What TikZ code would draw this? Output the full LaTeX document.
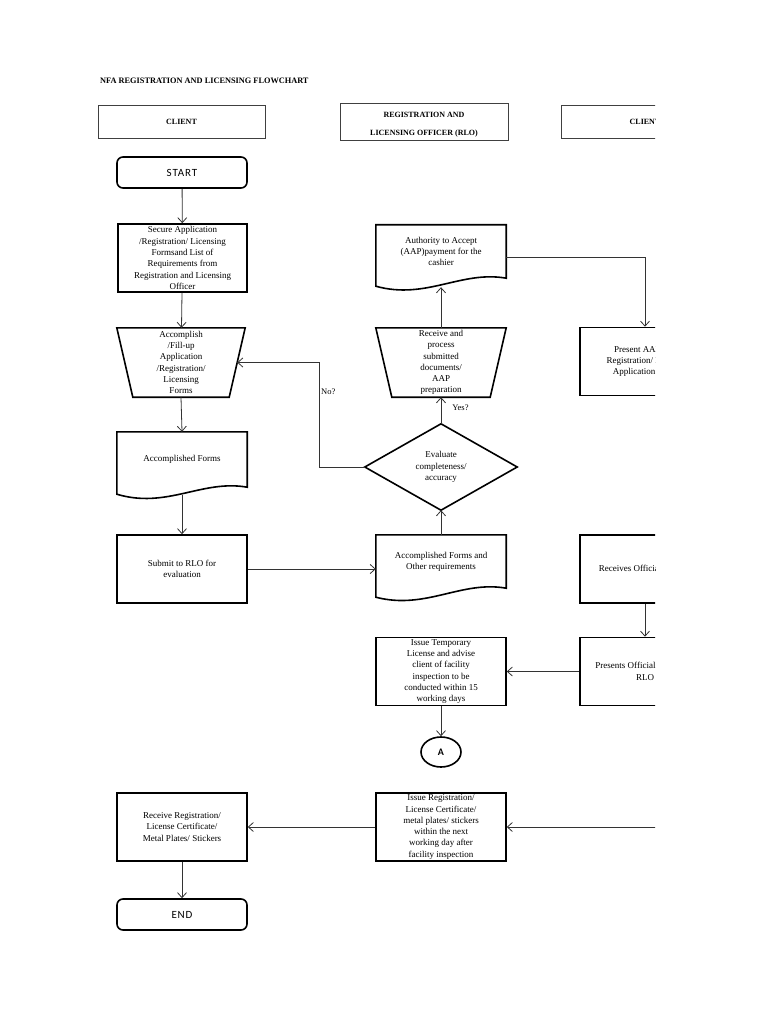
\documentclass[tikz,border=0pt]{standalone}
\usepackage{fontspec}
\setmainfont{Liberation Serif}
\newfontfamily\termfont[LetterSpace=8]{Carlito}
\usetikzlibrary{arrows.meta,shapes.geometric,calc}
\tikzset{
  txt/.style={font=\fontsize{9}{11.3}\selectfont, align=center, inner sep=1},
  box/.style={txt, draw, line width=1.6, minimum width=130, minimum height=68},
  ghost/.style={txt, minimum width=130, minimum height=68},
  shp/.style={line width=1.6, line join=miter},
  term/.style={draw, line width=1.6, rounded corners=6, minimum width=130, minimum height=31, font=\termfont\fontsize{11}{13}\selectfont},
  hdr/.style={draw=black!75, line width=0.7, minimum width=167, minimum height=33, align=center, font=\bfseries\fontsize{8}{18}\selectfont},
  conn/.style={line width=0.8, draw=black!80, -{Straight Barb[length=5,width=9]}},
  lab/.style={font=\fontsize{8.5}{10}\selectfont, inner sep=0},
}
\begin{document}
\begin{tikzpicture}[x=1pt,y=-1pt]
\useasboundingbox (0,0) rectangle (768,1024);
\begin{scope}
\clip (0,0) rectangle (655,1024);

\node[anchor=west, font=\bfseries\fontsize{8.3}{10}\selectfont, inner sep=0] (title) at (100,81) {NFA REGISTRATION AND LICENSING FLOWCHART};

\node[hdr] (h1) at (181.5,121.5) {CLIENT};
\node[hdr, minimum width=168, minimum height=37] (h2) at (424,121.5) {};
\node[align=center, font=\bfseries\fontsize{8}{18}\selectfont, inner sep=0] (h2t) at ($(h2.center)+(0,3)$) {REGISTRATION AND\\LICENSING OFFICER (RLO)};
\node[hdr, minimum width=168] (h3) at (645,121.5) {CLIENT};

% client column
\node[term] (start) at (182,172.5) {START};
\node[box, minimum width=129] (secure) at (182.5,258) {Secure Application\\/Registration/ Licensing\\Formsand List of\\Requirements from\\Registration and Licensing\\Officer};
\node[ghost, minimum width=128, minimum height=69] (acc) at (181,362.5) {Accomplish\\/Fill-up\\Application\\/Registration/\\Licensing\\Forms};
\draw[shp] (acc.north west) -- (acc.north east) -- ($(acc.south east)+(-16,0)$) -- ($(acc.south west)+(16,0)$) -- cycle;
\coordinate (accR) at ($(acc.east)+(-8,0)$);

\node[ghost, minimum height=55] (forms) at (182,459.5) {Accomplished Forms};
\draw[shp] (forms.south west) -- (forms.north west) -- (forms.north east) -- (forms.south east)
  .. controls ($(forms.south east)+(-45,-8)$) and ($(forms.south west)+(50,22)$) .. ($(forms.south west)+(0,7)$) -- cycle;

\node[box] (submit) at (182,569) {Submit to RLO for\\evaluation};
\node[box] (recv) at (182,827) {Receive Registration/\\License Certificate/\\Metal Plates/ Stickers};
\node[term] (end) at (182,914.5) {END};

% RLO column
\node[ghost, minimum height=53] (aap) at (441,251.5) {Authority to Accept\\(AAP)payment for the\\cashier};
\draw[shp] (aap.south west) -- (aap.north west) -- (aap.north east) -- (aap.south east)
  .. controls ($(aap.south east)+(-45,-8)$) and ($(aap.south west)+(50,22)$) .. ($(aap.south west)+(0,8)$) -- cycle;

\node[ghost, minimum height=69] (proc) at (441,362.5) {Receive and\\process\\submitted\\documents/\\AAP\\preparation};
\draw[shp] (proc.north west) -- (proc.north east) -- ($(proc.south east)+(-16,0)$) -- ($(proc.south west)+(16,0)$) -- cycle;

\node[ghost, minimum width=152, minimum height=86] (eval) at (441,467) {Evaluate\\completeness/\\accuracy};
\draw[shp] (eval.north) -- (eval.east) -- (eval.south) -- (eval.west) -- cycle;

\node[ghost, minimum height=53] (other) at (441,561.5) {Accomplished Forms and\\Other requirements};
\draw[shp] (other.south west) -- (other.north west) -- (other.north east) -- (other.south east)
  .. controls ($(other.south east)+(-45,-8)$) and ($(other.south west)+(50,22)$) .. ($(other.south west)+(0,9)$) -- cycle;

\node[box] (temp) at (441,671.5) {Issue Temporary\\License and advise\\client of facility\\inspection to be\\conducted within 15\\working days};
\node[draw, ellipse, line width=1.6, minimum width=40, minimum height=30, inner sep=0, font=\termfont\bfseries\fontsize{10}{12}\selectfont] (A) at (441,752) {A};
\node[box] (issue) at (441,827) {Issue Registration/\\License Certificate/\\metal plates/ stickers\\within the next\\working day after\\facility inspection};

% client column (right)
\node[box] (present) at (645,361.5) {Present AAP and\\Registration/ License\\Application Form};
\node[box] (receives) at (645,569) {Receives Official Receipt};
\node[box] (presents) at (645,671.5) {Presents Official Receipt to\\RLO};
\coordinate (rin) at (720,827);

% connectors
\draw[conn] (start) -- (secure);
\draw[conn] (secure) -- (acc);
\draw[conn] (acc.south) -- (forms.north);
\draw[conn] ($(forms.south)+(0,8)$) -- (submit.north);
\draw[conn] (submit.east) -- (submit.east -| other.west);
\draw[conn] (other.north) -- (eval.south);
\draw[conn] (eval.north) -- node[lab, right, pos=0.6, xshift=11] (yes) {Yes?} (proc.south);
\draw[conn] (eval.west) -- ++(-45,0) |- node[lab, pos=0.36, right, xshift=1] (no) {No?} (accR);
\draw[conn] (proc.north) -- ($(aap.south)+(0,9)$);
\draw[conn] ($(aap.east)+(0,6)$) -| (present.north);
\draw[conn] (receives) -- (presents);
\draw[conn] (presents.west) -- (temp.east);
\draw[conn] (temp) -- (A);
\draw[conn] (rin) -- (issue.east);
\draw[conn] (issue.west) -- (recv.east);
\draw[conn] (recv) -- (end);
\end{scope}
\end{tikzpicture}
\end{document}
